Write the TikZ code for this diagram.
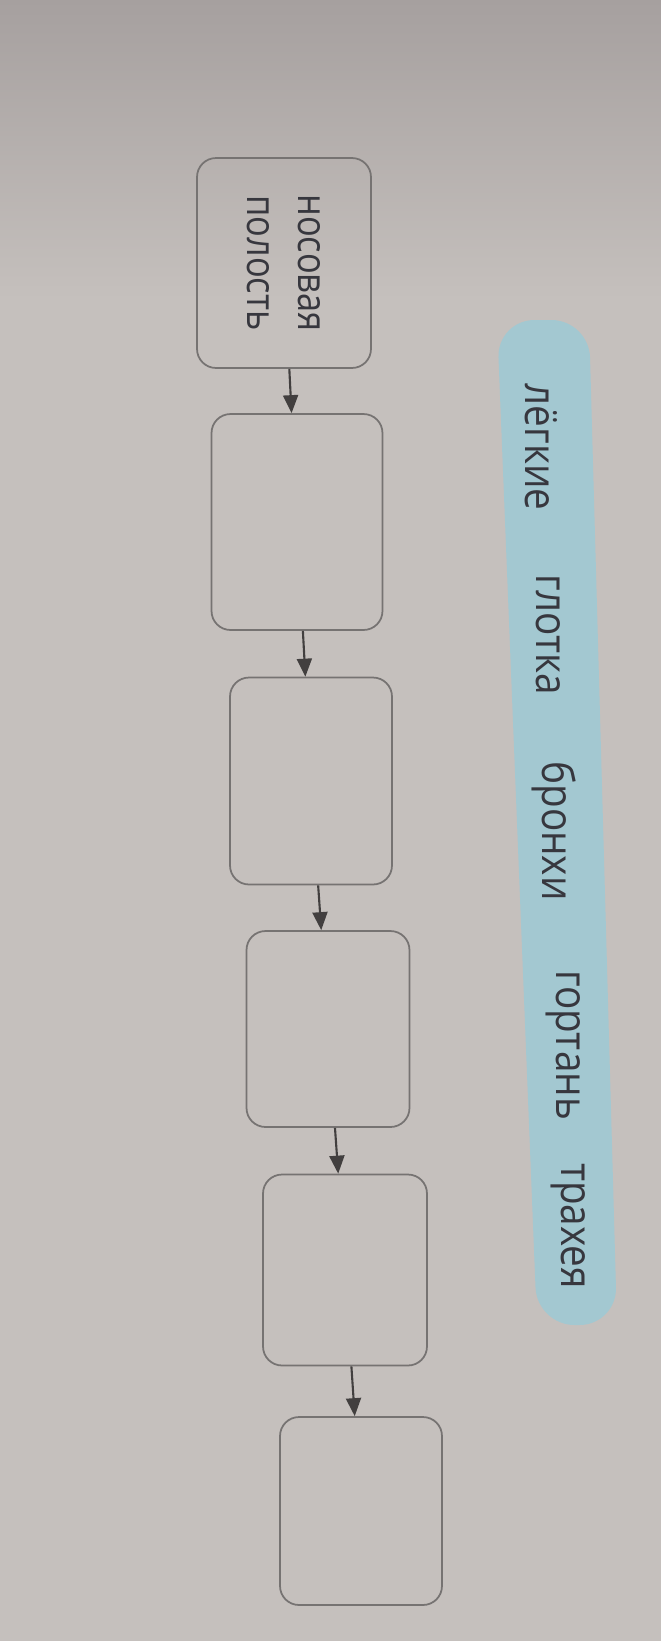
\documentclass[tikz,border=0pt]{standalone}
\usepackage{fontspec}
\setmainfont{Open Sans}
\usetikzlibrary{arrows.meta,calc}
\definecolor{paper}{RGB}{197,192,189}
\definecolor{papertop}{RGB}{166,160,159}
\definecolor{band}{RGB}{163,200,209}
\definecolor{frame}{RGB}{118,115,114}
\definecolor{ink}{RGB}{55,55,62}
\definecolor{arrowink}{RGB}{66,63,63}
\newcommand{\narrow}[2]{\scalebox{#1}[1]{#2}}

\begin{document}
\begin{tikzpicture}[x=0.02cm, y=-0.02cm,
    cell/.style={draw=frame, line width=1pt, rounded corners=0.38cm, inner sep=0pt},
    word/.style={rotate=-90, text=ink, font=\fontsize{25}{29}\selectfont, inner sep=0pt},
    flow/.style={draw=arrowink, line width=1.2pt, -{Triangle[length=0.36cm, width=0.3cm]}}]
      \useasboundingbox (0,0) rectangle (661,1641);
      \fill[paper] (0,0) rectangle (661,1641);
      \shade[top color=papertop, bottom color=paper] (0,0) rectangle (661,300);

      % word bank
      \fill[band, rounded corners=0.75cm] (497,320) -- (589,320) -- (617,1325) -- (537,1325) -- cycle;
      \node[word] (lungs) at (541,447) {\narrow{0.88}{лёгкие}};
      \node[word] (pharynx) at (548,635) {\narrow{0.88}{глотка}};
      \node[word] (bronchi) at (554,831) {\narrow{0.88}{бронхи}};
      \node[word] (larynx) at (563,1045) {\narrow{0.88}{гортань}};
      \node[word] (trachea) at (568,1226) {\narrow{0.88}{трахея}};

      % chain of cells
      \node[cell, minimum width=3.48cm, minimum height=4.2cm] (c1) at (284,263) {};
      \node[cell, minimum width=3.42cm, minimum height=4.32cm] (c2) at (297,522) {};
      \node[cell, minimum width=3.24cm, minimum height=4.14cm] (c3) at (311,781) {};
      \node[cell, minimum width=3.26cm, minimum height=3.92cm] (c4) at (328,1029) {};
      \node[cell, minimum width=3.28cm, minimum height=3.82cm] (c5) at (345,1270) {};
      \node[cell, minimum width=3.24cm, minimum height=3.76cm] (c6) at (361,1511) {};

      \node[word, align=center, font=\fontsize{23}{29}\selectfont] (nose) at (c1) {\narrow{0.85}{носовая}\\\narrow{0.85}{полость}};

      \draw[flow] (c1) -- (c2);
      \draw[flow] (c2) -- (c3);
      \draw[flow] (c3) -- (c4);
      \draw[flow] (c4) -- (c5);
      \draw[flow] (c5) -- (c6);
    \end{tikzpicture}
\end{document}
